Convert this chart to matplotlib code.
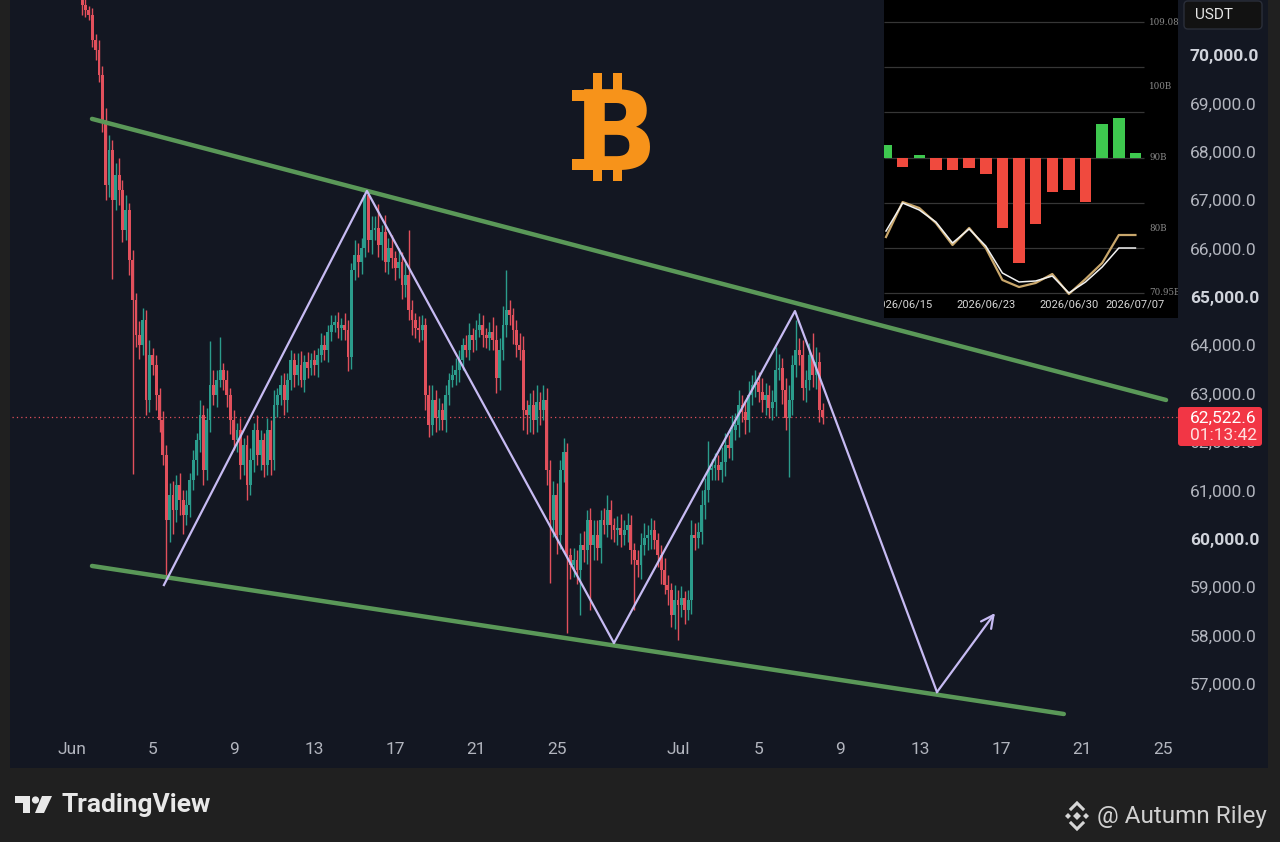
import numpy as np
import matplotlib
matplotlib.use('Agg')
import matplotlib.pyplot as plt
from matplotlib.patches import Rectangle, FancyBboxPatch, Polygon, Circle

plt.rcParams['font.family'] = ['Roboto', 'DejaVu Sans']

W, H = 1280, 842

# BTCUSDT 4h candles, first one at Jun 1 00:00 (one row = one day)
first_open = 71900
closes = [
    71760, 71550, 71340, 71030, 70930, 70830,
    70310, 70100, 69590, 68660, 67310, 68040,
    67000, 67520, 67210, 66380, 66800, 65760,
    64940, 64210, 64010, 64520, 62870, 63800,
    63590, 62970, 62460, 61730, 60390, 60900,
    60600, 61110, 60800, 60490, 60700, 61220,
    61630, 62040, 62560, 61420, 62460, 63180,
    62970, 63280, 63490, 63280, 62970, 62460,
    62040, 62250, 61530, 61940, 61110, 61630,
    62250, 61730, 62040, 61530, 62250, 61630,
    62770, 62970, 63180, 62870, 63280, 63700,
    63390, 63590, 63280, 63660, 63530, 63700,
    63590, 63800, 64010, 63900, 64280, 64420,
    64480, 64360, 64420, 64320, 63760, 65560,
    65870, 65720, 66020, 67110, 66180, 66380,
    66420, 66070, 66340, 65720, 66020, 65800,
    65600, 65720, 65250, 65450, 64730, 64520,
    64360, 64320, 64420, 62970, 62350, 62870,
    62500, 62660, 62460, 62970, 63280, 63390,
    63490, 63700, 64010, 63900, 64210, 64110,
    64320, 64420, 64210, 64150, 64280, 64110,
    63320, 63900, 64420, 64730, 64630, 64320,
    64010, 63900, 62660, 62560, 62770, 62460,
    62830, 62660, 62870, 61420, 60390, 60900,
    60080, 61420, 61790, 59670, 59460, 59560,
    59360, 59870, 59770, 60390, 59870, 60080,
    59810, 60390, 60290, 60600, 60290, 60180,
    60220, 60080, 60180, 60290, 59770, 59560,
    59460, 59870, 60020, 60080, 60180, 59980,
    59670, 59360, 59050, 58940, 58430, 58740,
    58630, 58780, 58530, 58740, 60080, 60020,
    60140, 60700, 61010, 61420, 61460, 61530,
    61420, 61590, 61940, 61880, 62250, 62350,
    62770, 62620, 62460, 62970, 63180, 63240,
    63030, 62870, 62970, 62700, 62830, 63490,
    63530, 63080, 62500, 62870, 63590, 63900,
    63800, 63120, 63280, 63800, 63390, 63660,
    62660, 62522.6,
]
upper_wick = [
    120, 150, 100, 200, 180, 90,
    150, 120, 200, 180, 250, 300,
    200, 250, 350, 200, 300, 150,
    200, 150, 300, 250, 200, 300,
    150, 200, 150, 180, 200, 250,
    300, 200, 250, 200, 300, 150,
    200, 150, 300, 200, 250, 900,
    300, 200, 680, 150, 200, 150,
    200, 150, 250, 150, 200, 250,
    150, 300, 200, 150, 250, 200,
    300, 150, 200, 250, 150, 200,
    150, 250, 300, 150, 200, 150,
    200, 150, 250, 200, 150, 200,
    150, 200, 150, 250, 200, 150,
    300, 250, 200, 60, 100, 300,
    250, 500, 150, 350, 200, 250,
    150, 300, 200, 250, 930, 200,
    150, 250, 200, 150, 200, 300,
    200, 250, 150, 200, 150, 200,
    250, 200, 150, 200, 250, 150,
    200, 250, 200, 150, 200, 300,
    300, 250, 400, 830, 200, 150,
    200, 250, 300, 200, 250, 300,
    350, 200, 300, 250, 200, 300,
    250, 200, 300, 200, 150, 250,
    200, 250, 300, 200, 250, 300,
    300, 200, 250, 300, 200, 150,
    250, 300, 200, 250, 200, 150,
    200, 250, 300, 200, 250, 200,
    150, 200, 250, 200, 150, 300,
    200, 250, 150, 200, 300, 250,
    200, 300, 250, 600, 200, 250,
    200, 300, 250, 200, 300, 250,
    300, 200, 250, 300, 200, 250,
    200, 300, 250, 200, 250, 470,
    300, 200, 250, 300, 200, 620,
    250, 300, 200, 250, 450, 300,
    200, 150,
]
lower_wick = [
    100, 150, 120, 200, 150, 100,
    150, 200, 150, 250, 300, 250,
    1630, 200, 300, 250, 200, 300,
    3600, 250, 300, 200, 300, 250,
    200, 300, 250, 200, 1180, 450,
    500, 250, 300, 400, 200, 250,
    200, 300, 250, 300, 200, 250,
    200, 250, 150, 200, 250, 300,
    200, 250, 300, 200, 300, 200,
    250, 200, 300, 250, 200, 300,
    200, 250, 200, 300, 250, 200,
    250, 200, 150, 250, 200, 150,
    200, 250, 150, 200, 250, 200,
    150, 200, 250, 200, 300, 250,
    200, 300, 250, 200, 250, 300,
    200, 250, 300, 200, 250, 200,
    250, 200, 300, 250, 200, 300,
    200, 250, 200, 300, 250, 200,
    300, 250, 200, 250, 200, 150,
    200, 250, 200, 150, 200, 250,
    200, 150, 250, 200, 250, 200,
    300, 250, 200, 250, 200, 300,
    250, 200, 400, 400, 350, 300,
    250, 300, 200, 300, 1300, 350,
    400, 300, 250, 1620, 300, 250,
    300, 940, 250, 300, 1350, 300,
    250, 300, 200, 250, 300, 250,
    300, 250, 200, 250, 300, 1040,
    250, 300, 200, 250, 300, 200,
    250, 300, 200, 300, 250, 300,
    730, 250, 300, 200, 300, 250,
    200, 250, 300, 250, 200, 250,
    200, 250, 300, 200, 250, 200,
    250, 200, 300, 250, 200, 250,
    200, 250, 300, 200, 250, 300,
    200, 300, 250, 1220, 300, 250,
    200, 250, 300, 200, 250, 300,
    250, 150,
]

# falling wedge (day since Jun 1, price)
wedge_top_days = [0.99, 54.16]
wedge_top_prices = [68680, 62870]
wedge_bot_days = [0.99, 49.1]
wedge_bot_prices = [59440, 56380]

# hand-drawn projection
zigzag_days = [4.55, 14.6, 26.83, 35.79, 42.82]
zigzag_prices = [59045, 67190, 57846, 64708, 56833]
arrow_day, arrow_price = 45.69, 58466

last_price = 62522.6
countdown = '01:13:42'

price_ticks = list(range(57000, 70001, 1000))
bold_ticks = [60000, 65000, 70000]
date_ticks = [0, 4, 8, 12, 16, 20, 24, 30, 34, 38, 42, 46, 50, 54]
date_labels = ['Jun', '5', '9', '13', '17', '21', '25', 'Jul', '5', '9', '13', '17', '21', '25']

# inset: stablecoin flow bars (B, around 90B) and two supply lines
flow_bars = [1.8, -1.3, 0.3, -1.7, -1.8, -1.4, -2.3, -9.9, -14.8, -9.4, -4.8, -4.6, -6.2, 4.8, 5.6, 0.6]
supply_white = [79.67, 83.61, 82.63, 80.94, 77.99, 79.96, 77.56, 73.76, 72.50, 72.64, 73.34, 70.95, 72.50, 74.61, 77.28, 77.28]
supply_gold = [78.83, 83.75, 82.91, 80.80, 77.70, 80.10, 77.28, 72.78, 71.79, 72.36, 73.62, 70.81, 72.92, 75.17, 79.11, 79.11]
inset_ticks = [109.08, 100, 90, 80, 70.95]
inset_tick_labels = ['109.08B', '100B', '90B', '80B', '70.95B']
inset_date_pos = [1, 6, 11, 15]
inset_date_labels = ['2026/06/15', '2026/06/23', '2026/06/30', '2026/07/07']

NAVY = '#131722'
GREEN = '#2b9c8c'
RED = '#e2505c'
WEDGE = '#5a9858'
PURPLE = '#c7bbf3'
TICK = '#b2b5be'


def px_box(x0, y0, x1, y1):
    return [x0 / W, 1 - y1 / H, (x1 - x0) / W, (y1 - y0) / H]


fig = plt.figure(figsize=(W / 100, H / 100), dpi=100, facecolor='#202020')

bg = fig.add_axes([0, 0, 1, 1], zorder=0)
bg.set_xlim(0, W)
bg.set_ylim(H, 0)
bg.axis('off')
bg.add_patch(Rectangle((10, 0), 1258, 768, fc=NAVY, ec='none'))

# main candle chart
ax = fig.add_axes(px_box(12, 0, 1178, 735), zorder=1)
ax.set_facecolor('none')
for s in ax.spines.values():
    s.set_visible(False)
ax.set_xlim(-2.970, 54.752)
ax.set_ylim(55946, 71137)

t = np.arange(len(closes)) / 6.0
c = np.array(closes, dtype=float)
o = np.array([first_open] + closes[:-1], dtype=float)
hi = np.maximum(o, c) + np.array(upper_wick)
lo = np.minimum(o, c) - np.array(lower_wick)
cols = np.where(c >= o, GREEN, RED)
ax.vlines(t, lo, hi, colors=cols, lw=1.0, zorder=2)
ax.bar(t, np.maximum(np.abs(c - o), 30), bottom=np.minimum(o, c), width=0.14,
       color=cols, linewidth=0, zorder=3)

ax.axhline(last_price, color=RED, lw=0.9, ls=(0, (1, 2.5)), zorder=1)

ax.plot(wedge_top_days, wedge_top_prices, color=WEDGE, lw=3.2, solid_capstyle='round', zorder=4)
ax.plot(wedge_bot_days, wedge_bot_prices, color=WEDGE, lw=3.2, solid_capstyle='round', zorder=4)
ax.plot(zigzag_days, zigzag_prices, color=PURPLE, lw=1.6, zorder=5)
ax.annotate('', xy=(arrow_day, arrow_price), xytext=(zigzag_days[-1], zigzag_prices[-1]),
            arrowprops=dict(arrowstyle='->,head_length=0.9,head_width=0.45', color=PURPLE,
                            lw=1.6, shrinkA=0, shrinkB=0), zorder=5)

ax.yaxis.tick_right()
ax.set_yticks(price_ticks)
ax.set_yticklabels([f'{p:,.1f}' for p in price_ticks])
ax.tick_params(axis='y', length=0, pad=8.6, labelsize=12.5, labelcolor=TICK)
for lbl, p in zip(ax.get_yticklabels(), price_ticks):
    if p in bold_ticks:
        lbl.set_fontweight('bold')
        lbl.set_color('#d1d4dc')
ax.set_xticks(date_ticks)
ax.set_xticklabels(date_labels)
ax.tick_params(axis='x', length=0, pad=5, labelsize=12.5, labelcolor=TICK)

# inset panel
ax2 = fig.add_axes(px_box(884, 0, 1178, 318), zorder=2)
ax2.set_facecolor('#000000')
for s in ax2.spines.values():
    s.set_visible(False)
ax2.set_xticks([])
ax2.set_yticks([])
ax2.set_xlim(-0.12, 17.56)
ax2.set_ylim(67.43, 112.18)
ax2.hlines(np.linspace(70.95, 109.08, 7), -0.12, 15.51, color='#363636', lw=0.9, zorder=1)
idx = np.arange(len(flow_bars))
ax2.bar(idx, flow_bars, bottom=90, width=0.69,
        color=['#3ec84f' if v > 0 else '#f04a3e' for v in flow_bars], zorder=2)
ax2.plot(idx, supply_gold, color='#c9a76c', lw=1.6, zorder=3)
ax2.plot(idx, supply_white, color='#f2f2f2', lw=1.1, zorder=4)
for v, lab in zip(inset_ticks, inset_tick_labels):
    ax2.text(15.82, v, lab, fontsize=6.3, family='DejaVu Serif', color='#8a8a8a',
             va='center', clip_on=True)
for pos, lab in zip(inset_date_pos, inset_date_labels):
    ax2.text(pos, 69.26, lab, fontsize=8, color='#d8d8d8', ha='center', va='center', clip_on=True)

# overlay: labels, logos
ov = fig.add_axes([0, 0, 1, 1], zorder=3)
ov.set_xlim(0, W)
ov.set_ylim(H, 0)
ov.axis('off')

ov.add_patch(FancyBboxPatch((1178, 407), 84, 39, boxstyle='round,pad=0,rounding_size=3',
                            fc='#f23645', ec='none'))
ov.text(1190, 418, f'{last_price:,.1f}', color='white', fontsize=12.5, va='center')
ov.text(1190, 436, countdown, color='#ffe0e0', fontsize=12.5, va='center')

ov.add_patch(FancyBboxPatch((1184, 1), 78, 28, boxstyle='round,pad=0,rounding_size=4',
                            fc='#121212', ec='#2a2e39', lw=1))
ov.text(1195, 15, 'USDT', color='#e6e6e6', fontsize=11, va='center')

# bitcoin sign
ORANGE = '#f7931a'
ov.text(616, 170, 'B', family='DejaVu Sans', fontweight='bold', fontsize=79,
        color=ORANGE, ha='center', va='baseline')
for bx in (593, 613):
    ov.add_patch(Rectangle((bx, 73), 9, 19, fc=ORANGE, ec='none'))
    ov.add_patch(Rectangle((bx, 167), 9, 14, fc=ORANGE, ec='none'))
ov.add_patch(Rectangle((572, 90), 14, 11, fc=ORANGE, ec='none'))
ov.add_patch(Rectangle((572, 159), 14, 11, fc=ORANGE, ec='none'))

# TradingView mark
LOGO = '#e8e8e8'
ov.add_patch(Rectangle((15, 796), 15, 7, fc=LOGO, ec='none'))
ov.add_patch(Rectangle((23, 796), 7, 17, fc=LOGO, ec='none'))
ov.add_patch(Circle((35.5, 800), 3.6, fc=LOGO, ec='none'))
ov.add_patch(Polygon([(42, 796), (52, 796), (44, 813), (35, 813)], fc=LOGO, ec='none'))
ov.text(61, 805, 'TradingView', color=LOGO, fontsize=19, fontweight='bold', va='center')

# binance-style mark + author
BN = '#d6d6d6'
cx, cy = 1077, 816
ov.add_patch(Polygon([(cx, cy - 4), (cx + 4, cy), (cx, cy + 4), (cx - 4, cy)], fc=BN, ec='none'))
for dx in (-9, 9):
    ov.add_patch(Polygon([(cx + dx, cy - 3), (cx + dx + 3, cy), (cx + dx, cy + 3), (cx + dx - 3, cy)],
                         fc=BN, ec='none'))
ov.plot([cx - 6, cx, cx + 6], [cy - 7, cy - 13, cy - 7], color=BN, lw=2.2, solid_joinstyle='miter')
ov.plot([cx - 6, cx, cx + 6], [cy + 7, cy + 13, cy + 7], color=BN, lw=2.2, solid_joinstyle='miter')
ov.text(1097, 816, '@ Autumn Riley', color='#d0d0d0', fontsize=17.5, va='center')

fig.savefig('out.png', dpi=100, facecolor=fig.get_facecolor())
